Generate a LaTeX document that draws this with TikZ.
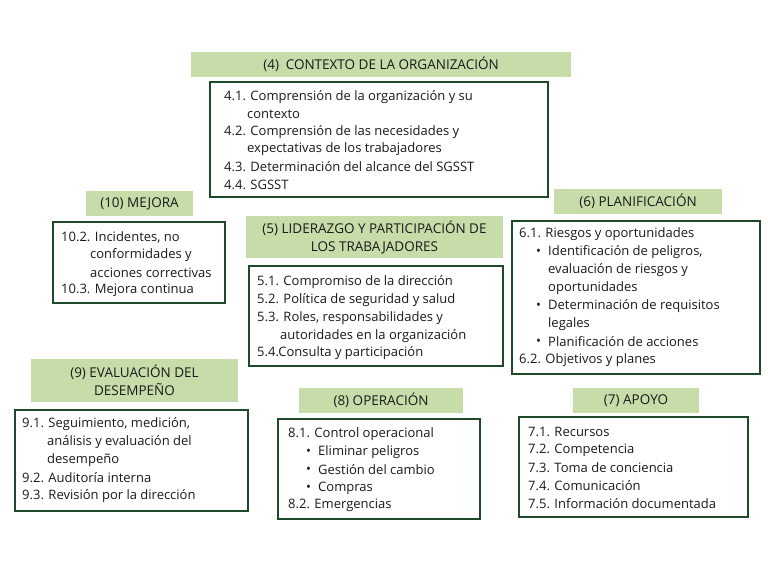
\documentclass[tikz,border=0pt]{standalone}
\usepackage{fontspec}
\setmainfont{Open Sans}
\definecolor{hdr}{HTML}{C6DDA9}
\definecolor{bdr}{HTML}{1E4A2A}
\definecolor{txt}{HTML}{1A1A1A}
\begin{document}
\begin{tikzpicture}[x=1pt,y=-1pt,
  hbox/.style={fill=hdr,draw=none},
  cbox/.style={draw=bdr,line width=1.6pt,fill=white},
  ln/.style={anchor=west,inner sep=0pt,font=\fontsize{13}{16}\selectfont,text=txt},
  ht/.style={align=center,inner sep=0pt,font=\fontsize{13.5}{18}\selectfont,text=txt}]
\useasboundingbox[fill=white] (0,0) rectangle (768,576);
\newcommand{\bl}[3]{\node[ln] at (#1,#2) {\textbullet}; \node[ln] at (#1+12,#2) {#3};}
% headers
\fill[hbox] (191,52) rectangle (571,77); \node[ht] (h4) at (381,64.5) {(4)\enspace CONTEXTO DE LA ORGANIZACIÓN};
\fill[hbox] (86,191) rectangle (193,216); \node[ht] (h10) at (139.5,203.5) {(10) MEJORA};
\fill[hbox] (246,216) rectangle (503,258); \node[ht] (h5) at (374.5,237) {(5) LIDERAZGO Y PARTICIPACIÓN DE\\LOS TRABAJADORES};
\fill[hbox] (554,189) rectangle (722,214); \node[ht] (h6) at (638,201.5) {(6) PLANIFICACIÓN};
\fill[hbox] (31,359) rectangle (238,402); \node[ht] (h9) at (134.5,380.5) {(9) EVALUACIÓN DEL\\DESEMPEÑO};
\fill[hbox] (299,388) rectangle (463,413); \node[ht] (h8) at (381,400.5) {(8) OPERACIÓN};
\fill[hbox] (573,388) rectangle (699,413); \node[ht] (h7) at (636,400.5) {(7) APOYO};
% content boxes
\draw[cbox] (210,82) rectangle (548,197);
\node[ln] at (224,97) {4.1. Comprensión de la organización y su};
\node[ln] at (247,114) {contexto};
\node[ln] at (224,132) {4.2. Comprensión de las necesidades y};
\node[ln] at (247,149) {expectativas de los trabajadores};
\node[ln] at (224,167) {4.3. Determinación del alcance del SGSST};
\node[ln] at (224,185) {4.4. SGSST};
\draw[cbox] (53,222) rectangle (225,303);
\node[ln] at (61,237) {10.2. Incidentes, no};
\node[ln] at (90,255) {conformidades y};
\node[ln] at (90,273) {acciones correctivas};
\node[ln] at (61,290) {10.3. Mejora continua};
\draw[cbox] (249,266) rectangle (503,366);
\node[ln] at (257,282) {5.1. Compromiso de la dirección};
\node[ln] at (257,300) {5.2. Política de seguridad y salud};
\node[ln] at (257,318) {5.3. Roles, responsabilidades y};
\node[ln] at (280,336) {autoridades en la organización};
\node[ln] at (257,353) {5.4.Consulta y participación};
\draw[cbox] (512,221) rectangle (760,374);
\node[ln] at (519,234) {6.1. Riesgos y oportunidades};
\bl{536}{252}{Identificación de peligros,}
\node[ln] at (548,270) {evaluación de riesgos y};
\node[ln] at (548,288) {oportunidades};
\bl{536}{306}{Determinación de requisitos}
\node[ln] at (548,324) {legales};
\bl{536}{342}{Planificación de acciones}
\node[ln] at (519,360) {6.2. Objetivos y planes};
\draw[cbox] (15,410) rectangle (248,511);
\node[ln] at (22,424) {9.1. Seguimiento, medición,};
\node[ln] at (47,442) {análisis y evaluación del};
\node[ln] at (47,460) {desempeño};
\node[ln] at (22,478) {9.2. Auditoría interna};
\node[ln] at (22,496) {9.3. Revisión por la dirección};
\draw[cbox] (278,419) rectangle (480,519);
\node[ln] at (288,434) {8.1. Control operacional};
\bl{306}{452}{Eliminar peligros}
\bl{306}{470}{Gestión del cambio}
\bl{306}{488}{Compras}
\node[ln] at (288,505) {8.2. Emergencias};
\draw[cbox] (519,417) rectangle (748,517);
\node[ln] at (528,432) {7.1. Recursos};
\node[ln] at (528,450) {7.2. Competencia};
\node[ln] at (528,468) {7.3. Toma de conciencia};
\node[ln] at (528,486) {7.4. Comunicación};
\node[ln] at (528,504) {7.5. Información documentada};
\end{tikzpicture}
\end{document}
